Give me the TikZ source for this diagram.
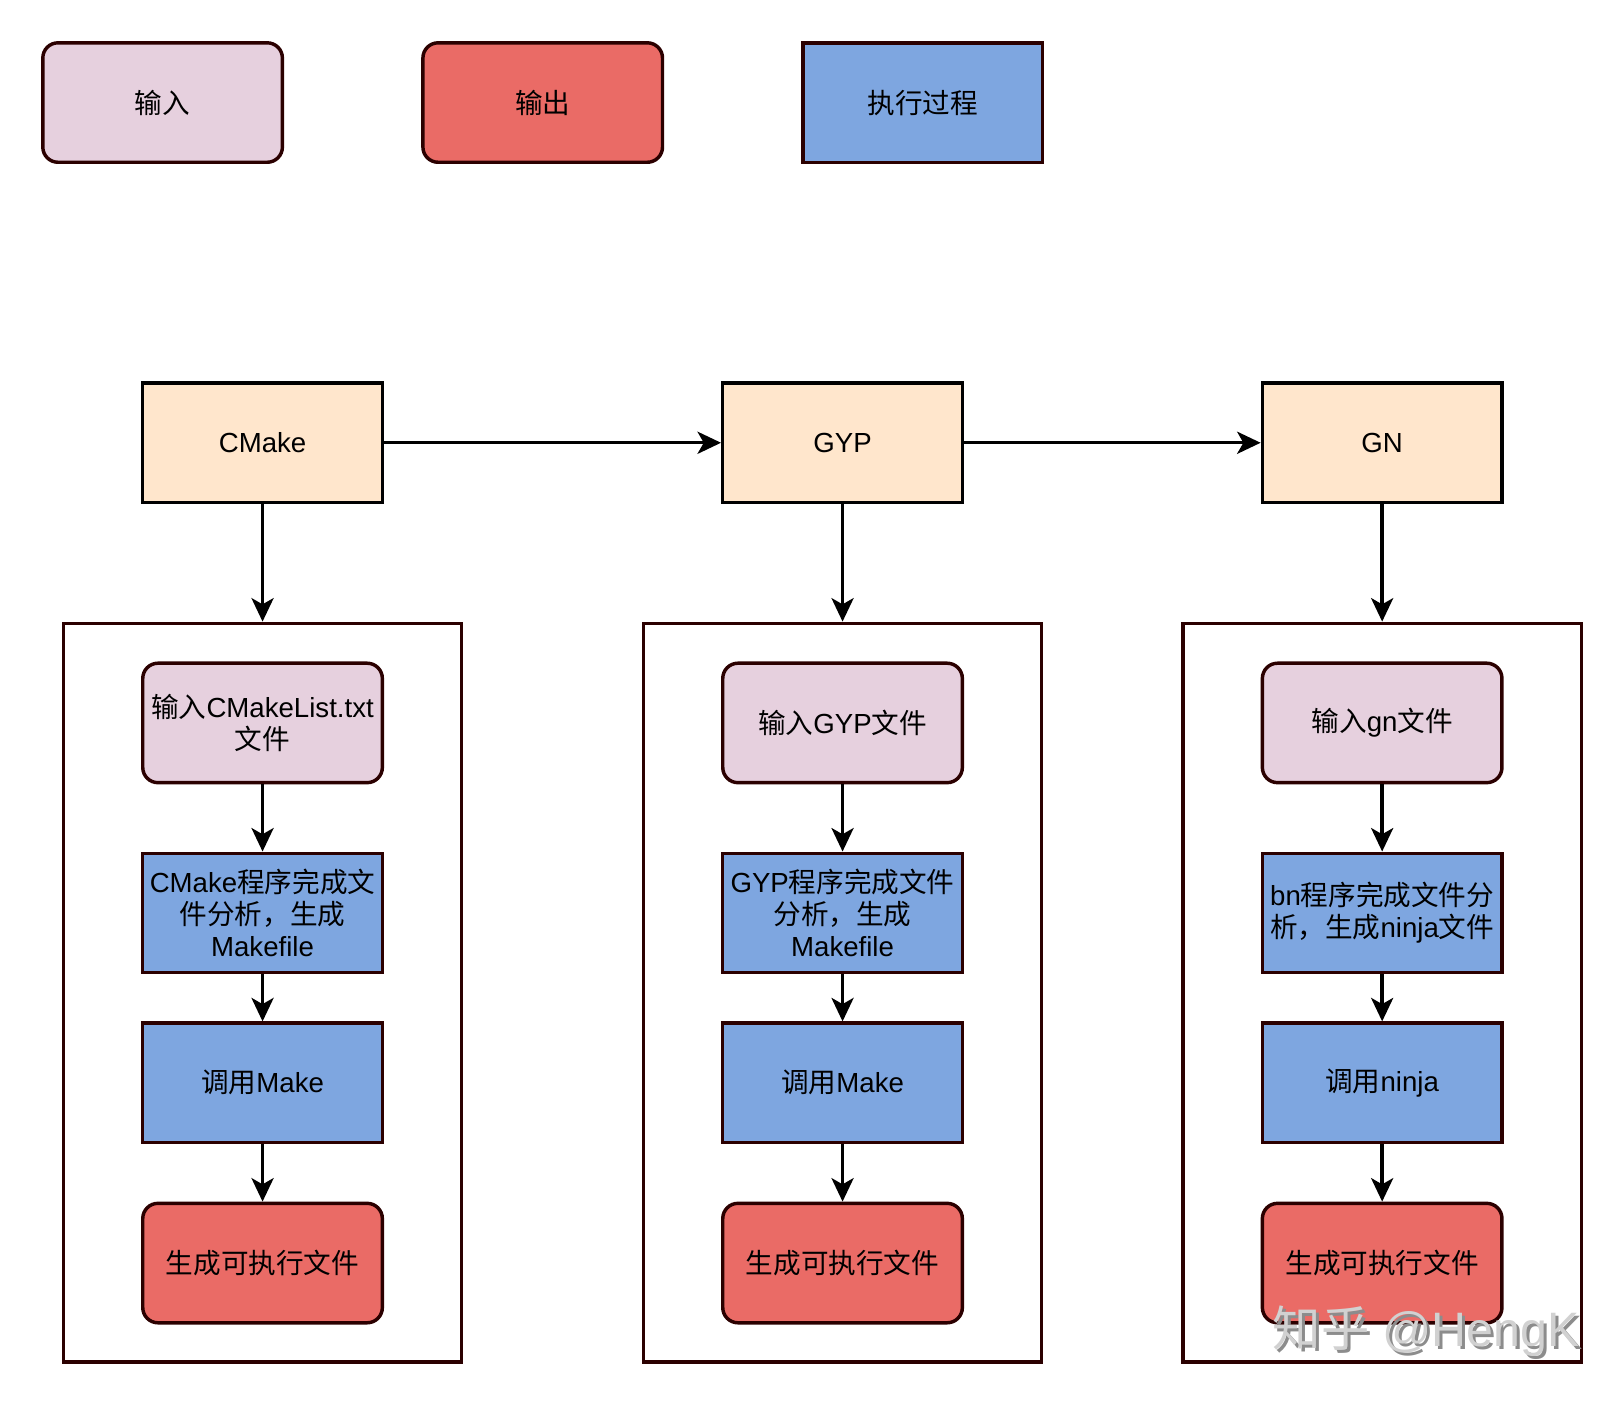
\documentclass[tikz,border=0pt]{standalone}
\usepackage{fontspec}
\setmainfont{Liberation Sans}
\newfontfamily\cjk{Noto Sans CJK SC}
\usetikzlibrary{arrows.meta}
\definecolor{inputfill}{HTML}{E6D0DE}
\definecolor{outputfill}{HTML}{EA6B66}
\definecolor{procfill}{HTML}{7EA6E0}
\definecolor{toolfill}{HTML}{FFE6CC}
\definecolor{darkline}{HTML}{2B0000}

\begin{document}
\begin{tikzpicture}[x=0.75pt,y=0.75pt,yscale=-1,xscale=1,
	every node/.style={font=\fontsize{20}{23}\selectfont, align=center, inner sep=0.75pt},
	inbox/.style={draw=darkline, fill=inputfill, line width=2.5pt, rounded corners=11pt, minimum width=173.5pt, minimum height=86.5pt},
	outbox/.style={draw=darkline, fill=outputfill, line width=2.5pt, rounded corners=11pt, minimum width=173.5pt, minimum height=86.5pt},
	procbox/.style={draw=darkline, fill=procfill, line width=2.5pt, minimum width=173.5pt, minimum height=86.5pt},
	toolbox/.style={draw=black, fill=toolfill, line width=2.5pt, minimum width=173.5pt, minimum height=86.5pt},
	groupbox/.style={draw=darkline, line width=2.5pt, minimum width=288.5pt, minimum height=535pt},
	flow/.style={draw=black, line width=2.5pt, -{Stealth[length=17pt,width=16pt,inset=4.5pt]}}]
	%set diagram size
	\useasboundingbox (0,0) rectangle (1568,1356);
	
	% Legend
	\node [inbox] (leginput) at (157,99) {\cjk 输入};
	\node [outbox] (legoutput) at (524,99) {\cjk 输出};
	\node [procbox] (legproc) at (891,99) {\cjk 执行过程};
	
	% Tools
	\node [toolbox] (cmake) at (253.5,427.5) {CMake};
	\node [toolbox] (gyp) at (813.5,427.5) {GYP};
	\node [toolbox] (gn) at (1334.5,427.5) {GN};
	
	% Group frames
	\node [groupbox] (cmakegroup) at (253.5,958.5) {};
	\node [groupbox] (gypgroup) at (813.5,958.5) {};
	\node [groupbox] (gngroup) at (1334.5,958.5) {};
	
	% CMake column
	\node [inbox] (cmakein) at (253.5,698) {{\cjk 输入}CMakeList.txt\\{\cjk 文件}};
	\node [procbox] (cmakeparse) at (253.5,881.5) {CMake{\cjk 程序完成文}\\{\cjk 件分析，生成}\\Makefile};
	\node [procbox] (cmakerun) at (253.5,1045.5) {{\cjk 调用}Make};
	\node [outbox] (cmakeout) at (253.5,1219.5) {\cjk 生成可执行文件};
	
	% GYP column
	\node [inbox] (gypin) at (813.5,698) {{\cjk 输入}GYP{\cjk 文件}};
	\node [procbox] (gypparse) at (813.5,881.5) {GYP{\cjk 程序完成文件}\\{\cjk 分析，生成}\\Makefile};
	\node [procbox] (gyprun) at (813.5,1045.5) {{\cjk 调用}Make};
	\node [outbox] (gypout) at (813.5,1219.5) {\cjk 生成可执行文件};
	
	% GN column
	\node [inbox] (gnin) at (1334.5,698) {{\cjk 输入}gn{\cjk 文件}};
	\node [procbox] (gnparse) at (1334.5,881.5) {bn{\cjk 程序完成文件分}\\{\cjk 析，生成}ninja{\cjk 文件}};
	\node [procbox] (gnrun) at (1334.5,1045.5) {{\cjk 调用}ninja};
	\node [outbox] (gnout) at (1334.5,1219.5) {\cjk 生成可执行文件};
	
	% Connectors
	\draw [flow] (cmake) -- (gyp);
	\draw [flow] (gyp) -- (gn);
	\draw [flow] (cmake) -- (cmakegroup.north);
	\draw [flow] (gyp) -- (gypgroup.north);
	\draw [flow] (gn) -- (gngroup.north);
	\draw [flow] (cmakein) -- (cmakeparse);
	\draw [flow] (cmakeparse) -- (cmakerun);
	\draw [flow] (cmakerun) -- (cmakeout);
	\draw [flow] (gypin) -- (gypparse);
	\draw [flow] (gypparse) -- (gyprun);
	\draw [flow] (gyprun) -- (gypout);
	\draw [flow] (gnin) -- (gnparse);
	\draw [flow] (gnparse) -- (gnrun);
	\draw [flow] (gnrun) -- (gnout);
	
	% Watermark
	\node [font=\fontsize{35}{40}\selectfont, text=black!45] (wmshadow) at (1380,1288) {{\cjk 知乎} @HengK};
	\node [font=\fontsize{35}{40}\selectfont, text=black!18] (wm) at (1377,1285) {{\cjk 知乎} @HengK};
	
\end{tikzpicture}
\end{document}
